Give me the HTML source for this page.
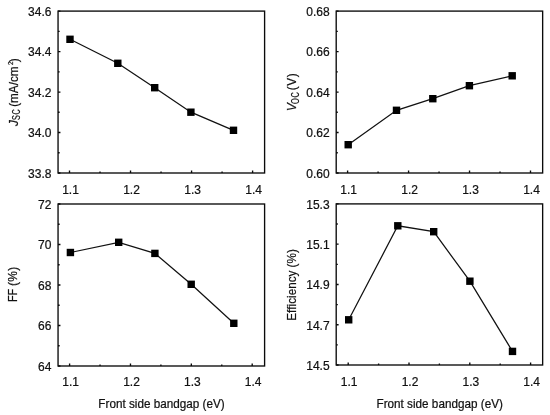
<!DOCTYPE html>
<html lang="en"><head><meta charset="utf-8"><title>Solar cell parameters vs front side bandgap</title>
<style>html,body{margin:0;padding:0;background:#fff;}body{width:550px;height:415px;overflow:hidden;}svg{display:block;}text{font-family:"Liberation Sans",Arial,Helvetica,sans-serif;fill:#111;stroke:#111;stroke-width:0.22px;font-variant-ligatures:none;font-kerning:none;}</style>
</head><body>
<svg width="550" height="415" viewBox="0 0 550 415">
<rect x="0" y="0" width="550" height="415" fill="#fff"/>
<g>
<rect x="58.05" y="11.10" width="206.55" height="161.90" fill="none" stroke="#0a0a0a" stroke-width="1.35"/>
<path d="M69.50 173.00v-2.4M100.02 173.00v-1.5M130.53 173.00v-2.4M161.05 173.00v-1.5M191.57 173.00v-2.4M222.08 173.00v-1.5M252.60 173.00v-2.4M58.05 173.00h2.4M58.05 152.76h1.6M58.05 132.53h2.4M58.05 112.29h1.6M58.05 92.05h2.4M58.05 71.81h1.6M58.05 51.57h2.4M58.05 31.34h1.6M58.05 11.10h2.4" fill="none" stroke="#0a0a0a" stroke-width="1.35"/>
<text x="51.45" y="177.90" font-size="12.0" text-anchor="end">33.8</text>
<text x="51.45" y="137.43" font-size="12.0" text-anchor="end">34.0</text>
<text x="51.45" y="96.95" font-size="12.0" text-anchor="end">34.2</text>
<text x="51.45" y="56.47" font-size="12.0" text-anchor="end">34.4</text>
<text x="51.45" y="16.00" font-size="12.0" text-anchor="end">34.6</text>
<text x="70.50" y="193.60" font-size="12.0" text-anchor="middle">1.1</text>
<text x="131.53" y="193.60" font-size="12.0" text-anchor="middle">1.2</text>
<text x="192.57" y="193.60" font-size="12.0" text-anchor="middle">1.3</text>
<text x="253.60" y="193.60" font-size="12.0" text-anchor="middle">1.4</text>
<polyline points="70.00,39.30 117.80,63.30 154.70,87.70 190.90,112.20 233.50,130.30" fill="none" stroke="#111" stroke-width="1.25"/>
<rect x="66.30" y="35.60" width="7.4" height="7.4" fill="#000"/>
<rect x="114.10" y="59.60" width="7.4" height="7.4" fill="#000"/>
<rect x="151.00" y="84.00" width="7.4" height="7.4" fill="#000"/>
<rect x="187.20" y="108.50" width="7.4" height="7.4" fill="#000"/>
<rect x="229.80" y="126.60" width="7.4" height="7.4" fill="#000"/>
<text transform="translate(18.05,126.10) rotate(-90) scale(0.975,1)" font-size="12" text-anchor="start" font-style="italic">J</text>
<text transform="translate(20.45,120.00) rotate(-90) scale(0.72,1)" font-size="10" text-anchor="start" letter-spacing="1.1">SC</text>
<text transform="translate(18.05,106.80) rotate(-90) scale(0.975,1)" font-size="12" text-anchor="start">(mA/cm</text>
<text transform="translate(12.75,65.10) rotate(-90) scale(0.85,1)" font-size="7.6" text-anchor="start">2</text>
<text transform="translate(18.05,62.30) rotate(-90) scale(0.975,1)" font-size="12" text-anchor="start">)</text>
</g>
<g>
<rect x="336.20" y="11.10" width="206.45" height="161.90" fill="none" stroke="#0a0a0a" stroke-width="1.35"/>
<path d="M347.60 173.00v-2.4M378.08 173.00v-1.5M408.57 173.00v-2.4M439.05 173.00v-1.5M469.53 173.00v-2.4M500.02 173.00v-1.5M530.50 173.00v-2.4M336.20 173.00h2.4M336.20 152.76h1.6M336.20 132.53h2.4M336.20 112.29h1.6M336.20 92.05h2.4M336.20 71.81h1.6M336.20 51.57h2.4M336.20 31.34h1.6M336.20 11.10h2.4" fill="none" stroke="#0a0a0a" stroke-width="1.35"/>
<text x="329.60" y="177.90" font-size="12.0" text-anchor="end">0.60</text>
<text x="329.60" y="137.43" font-size="12.0" text-anchor="end">0.62</text>
<text x="329.60" y="96.95" font-size="12.0" text-anchor="end">0.64</text>
<text x="329.60" y="56.47" font-size="12.0" text-anchor="end">0.66</text>
<text x="329.60" y="16.00" font-size="12.0" text-anchor="end">0.68</text>
<text x="348.60" y="193.60" font-size="12.0" text-anchor="middle">1.1</text>
<text x="409.57" y="193.60" font-size="12.0" text-anchor="middle">1.2</text>
<text x="470.53" y="193.60" font-size="12.0" text-anchor="middle">1.3</text>
<text x="531.50" y="193.60" font-size="12.0" text-anchor="middle">1.4</text>
<polyline points="348.20,144.70 396.50,110.30 432.80,98.70 469.40,85.70 512.20,75.80" fill="none" stroke="#111" stroke-width="1.25"/>
<rect x="344.50" y="141.00" width="7.4" height="7.4" fill="#000"/>
<rect x="392.80" y="106.60" width="7.4" height="7.4" fill="#000"/>
<rect x="429.10" y="95.00" width="7.4" height="7.4" fill="#000"/>
<rect x="465.70" y="82.00" width="7.4" height="7.4" fill="#000"/>
<rect x="508.50" y="72.10" width="7.4" height="7.4" fill="#000"/>
<text transform="translate(296.20,110.90) rotate(-90) scale(0.975,1)" font-size="12" text-anchor="start" font-style="italic">V</text>
<text transform="translate(298.60,104.00) rotate(-90) scale(0.74,1)" font-size="10" text-anchor="start" letter-spacing="1.1">OC</text>
<text transform="translate(296.20,90.30) rotate(-90) scale(0.975,1)" font-size="12" text-anchor="start" letter-spacing="0.7">(V)</text>
</g>
<g>
<rect x="58.05" y="204.00" width="206.55" height="162.00" fill="none" stroke="#0a0a0a" stroke-width="1.35"/>
<path d="M69.60 366.00v-2.4M100.03 366.00v-1.5M130.47 366.00v-2.4M160.90 366.00v-1.5M191.33 366.00v-2.4M221.77 366.00v-1.5M252.20 366.00v-2.4M58.05 366.00h2.4M58.05 345.75h1.6M58.05 325.50h2.4M58.05 305.25h1.6M58.05 285.00h2.4M58.05 264.75h1.6M58.05 244.50h2.4M58.05 224.25h1.6M58.05 204.00h2.4" fill="none" stroke="#0a0a0a" stroke-width="1.35"/>
<text x="51.45" y="370.90" font-size="12.0" text-anchor="end">64</text>
<text x="51.45" y="330.40" font-size="12.0" text-anchor="end">66</text>
<text x="51.45" y="289.90" font-size="12.0" text-anchor="end">68</text>
<text x="51.45" y="249.40" font-size="12.0" text-anchor="end">70</text>
<text x="51.45" y="208.90" font-size="12.0" text-anchor="end">72</text>
<text x="70.60" y="385.60" font-size="12.0" text-anchor="middle">1.1</text>
<text x="131.47" y="385.60" font-size="12.0" text-anchor="middle">1.2</text>
<text x="192.33" y="385.60" font-size="12.0" text-anchor="middle">1.3</text>
<text x="253.20" y="385.60" font-size="12.0" text-anchor="middle">1.4</text>
<polyline points="70.40,252.50 118.70,242.30 154.90,253.40 191.20,284.30 233.80,323.30" fill="none" stroke="#111" stroke-width="1.25"/>
<rect x="66.70" y="248.80" width="7.4" height="7.4" fill="#000"/>
<rect x="115.00" y="238.60" width="7.4" height="7.4" fill="#000"/>
<rect x="151.20" y="249.70" width="7.4" height="7.4" fill="#000"/>
<rect x="187.50" y="280.60" width="7.4" height="7.4" fill="#000"/>
<rect x="230.10" y="319.60" width="7.4" height="7.4" fill="#000"/>
<text transform="translate(161.55,407.7) scale(0.977,1)" font-size="12.0" text-anchor="middle">Front side bandgap (eV)</text>
<text transform="translate(17.15,302.10) rotate(-90) scale(0.9,1)" font-size="12" text-anchor="start">FF</text>
<text transform="translate(17.15,286.00) rotate(-90) scale(1.0,1)" font-size="12" text-anchor="start" letter-spacing="0.25">(%)</text>
</g>
<g>
<rect x="336.20" y="203.90" width="206.45" height="161.10" fill="none" stroke="#0a0a0a" stroke-width="1.35"/>
<path d="M348.20 365.00v-2.4M378.60 365.00v-1.5M409.00 365.00v-2.4M439.40 365.00v-1.5M469.80 365.00v-2.4M500.20 365.00v-1.5M530.60 365.00v-2.4M336.20 365.00h2.4M336.20 344.86h1.6M336.20 324.73h2.4M336.20 304.59h1.6M336.20 284.45h2.4M336.20 264.31h1.6M336.20 244.18h2.4M336.20 224.04h1.6M336.20 203.90h2.4" fill="none" stroke="#0a0a0a" stroke-width="1.35"/>
<text x="329.60" y="369.90" font-size="12.0" text-anchor="end">14.5</text>
<text x="329.60" y="329.62" font-size="12.0" text-anchor="end">14.7</text>
<text x="329.60" y="289.35" font-size="12.0" text-anchor="end">14.9</text>
<text x="329.60" y="249.08" font-size="12.0" text-anchor="end">15.1</text>
<text x="329.60" y="208.80" font-size="12.0" text-anchor="end">15.3</text>
<text x="349.20" y="385.60" font-size="12.0" text-anchor="middle">1.1</text>
<text x="410.00" y="385.60" font-size="12.0" text-anchor="middle">1.2</text>
<text x="470.80" y="385.60" font-size="12.0" text-anchor="middle">1.3</text>
<text x="531.60" y="385.60" font-size="12.0" text-anchor="middle">1.4</text>
<polyline points="348.70,319.80 397.80,225.80 433.70,231.70 469.90,281.20 512.50,351.40" fill="none" stroke="#111" stroke-width="1.25"/>
<rect x="345.00" y="316.10" width="7.4" height="7.4" fill="#000"/>
<rect x="394.10" y="222.10" width="7.4" height="7.4" fill="#000"/>
<rect x="430.00" y="228.00" width="7.4" height="7.4" fill="#000"/>
<rect x="466.20" y="277.50" width="7.4" height="7.4" fill="#000"/>
<rect x="508.80" y="347.70" width="7.4" height="7.4" fill="#000"/>
<text transform="translate(439.70,407.7) scale(0.977,1)" font-size="12.0" text-anchor="middle">Front side bandgap (eV)</text>
<text transform="translate(295.80,284.95) rotate(-90) scale(0.975,1)" font-size="12" text-anchor="middle">Efficiency (%)</text>
</g>
</svg>
</body></html>
